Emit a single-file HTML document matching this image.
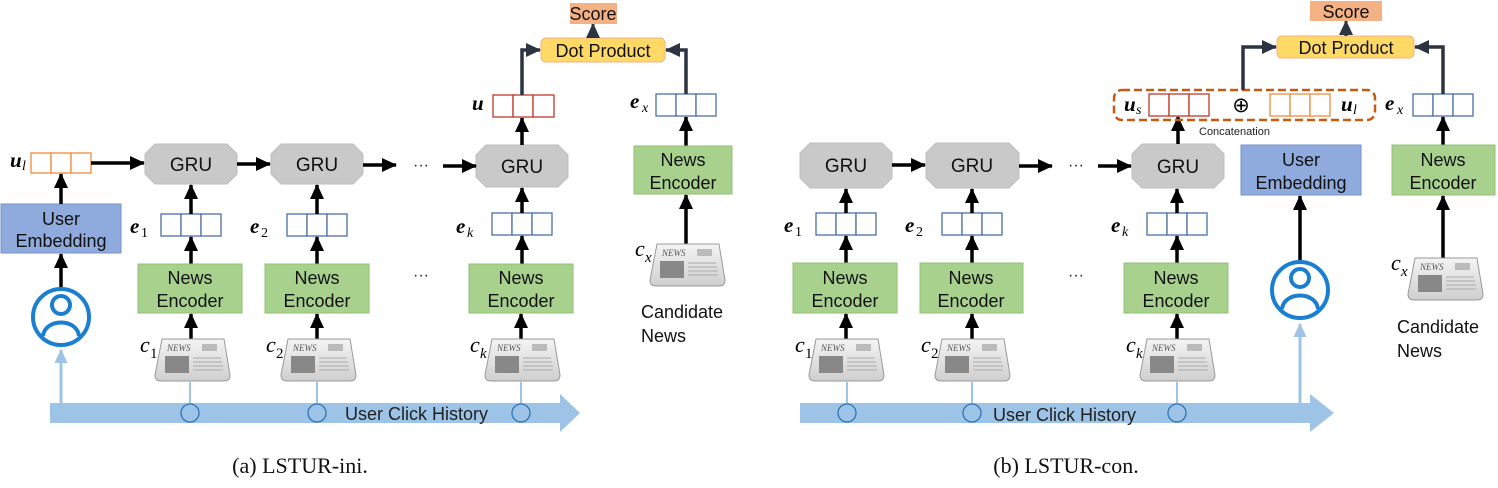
<!DOCTYPE html>
<html><head><meta charset="utf-8"><style>
body{margin:0;background:#fff}
svg{display:block}
.m{font-family:"Liberation Serif",serif;font-style:italic}
.b{font-family:"Liberation Serif",serif;font-style:italic;font-weight:bold}
.n{font-style:normal}
</style></head><body>
<svg width="1498" height="488" viewBox="0 0 1498 488" xmlns="http://www.w3.org/2000/svg" font-family="Liberation Sans, sans-serif">
<defs>
<marker id="ah" markerWidth="15" markerHeight="14" refX="14" refY="7" orient="auto" markerUnits="userSpaceOnUse"><path d="M0,0 L15,7 L0,14 z" fill="#000"/></marker>
<marker id="ad" markerWidth="15" markerHeight="14" refX="14" refY="7" orient="auto" markerUnits="userSpaceOnUse"><path d="M0,0 L15,7 L0,14 z" fill="#2b3440"/></marker>
<marker id="al" markerWidth="14" markerHeight="13" refX="13" refY="6.5" orient="auto" markerUnits="userSpaceOnUse"><path d="M0,0 L14,6.5 L0,13 z" fill="#9dc3e6"/></marker>
<linearGradient id="ng" x1="0" y1="0" x2="0" y2="1"><stop offset="0" stop-color="#f4f4f4"/><stop offset="1" stop-color="#cfcfcf"/></linearGradient>
</defs>

<!-- ===== LEFT PANEL ===== -->
<path d="M50,403 H560 V394 L580,413 L560,432 V423 H50 Z" fill="#9dc3e6"/>
<text x="345" y="420" font-size="18" fill="#222">User Click History</text>
<line x1="61" y1="403" x2="61" y2="350" stroke="#9dc3e6" stroke-width="3" marker-end="url(#al)"/>
<g stroke="#9dc3e6" stroke-width="2"><line x1="190" y1="382" x2="190" y2="403"/><line x1="317" y1="382" x2="317" y2="403"/><line x1="521" y1="382" x2="521" y2="403"/></g>
<g fill="#9dc3e6" stroke="#2e75b6" stroke-width="1.3"><circle cx="190" cy="413" r="9"/><circle cx="317" cy="413" r="9"/><circle cx="521" cy="413" r="9"/></g>

<g stroke="#1a7fd0" stroke-width="4" fill="none"><circle cx="61" cy="317" r="28"/><circle cx="61" cy="305" r="9"/><path d="M43,336 C45,318 77,318 79,336"/></g>
<line x1="61" y1="287" x2="61" y2="254" stroke="#000" stroke-width="3.5" marker-end="url(#ah)"/>
<rect x="1" y="204" width="120" height="49" fill="#8faadc" stroke="#7491c9"/>
<text x="61" y="225" font-size="18" text-anchor="middle" fill="#111">User</text>
<text x="61" y="247" font-size="18" text-anchor="middle" fill="#111">Embedding</text>
<line x1="61" y1="204" x2="61" y2="174" stroke="#000" stroke-width="3.5" marker-end="url(#ah)"/>
<text x="10" y="167" class="b" font-size="21">u</text><text x="22" y="170" class="m" font-size="14">l</text>
<g fill="#fff" stroke="#f08a3c" stroke-width="1.3"><rect x="31" y="153" width="20" height="20"/><rect x="51" y="153" width="20" height="20"/><rect x="71" y="153" width="20" height="20"/></g>
<line x1="91" y1="163" x2="144" y2="163" stroke="#000" stroke-width="3.5" marker-end="url(#ah)"/>

<g fill="#c9c9c9" stroke="#bdbdbd">
<path d="M155,144 H227 L237,154 V174 L227,184 H155 L145,174 V154 Z"/>
<path d="M281,144 H353 L363,154 V174 L353,184 H281 L271,174 V154 Z"/>
<path d="M486,145 H558 L568,155 V177 L558,187 H486 L476,177 V155 Z"/>
</g>
<g font-size="19" text-anchor="middle" fill="#111"><text x="191" y="171">GRU</text><text x="317" y="171">GRU</text><text x="522" y="173">GRU</text></g>
<line x1="237" y1="164" x2="270" y2="164" stroke="#000" stroke-width="3.5" marker-end="url(#ah)"/>
<line x1="363" y1="165" x2="396" y2="165" stroke="#000" stroke-width="3.5" marker-end="url(#ah)"/>
<text x="413" y="170" font-size="16" fill="#222">···</text>
<line x1="443" y1="166" x2="476" y2="166" stroke="#000" stroke-width="3.5" marker-end="url(#ah)"/>
<text x="413" y="280" font-size="16" fill="#222">···</text>

<g fill="#fff" stroke="#4a6fa5" stroke-width="1.3">
<rect x="161" y="214" width="20" height="22"/><rect x="181" y="214" width="20" height="22"/><rect x="201" y="214" width="20" height="22"/>
<rect x="287" y="214" width="20" height="22"/><rect x="307" y="214" width="20" height="22"/><rect x="327" y="214" width="20" height="22"/>
<rect x="492" y="213" width="20" height="22"/><rect x="512" y="213" width="20" height="22"/><rect x="532" y="213" width="20" height="22"/>
</g>
<text x="130" y="233" class="b" font-size="21">e</text><text x="141" y="237" font-size="14" class="m n">1</text>
<text x="250" y="233" class="b" font-size="21">e</text><text x="261" y="237" font-size="14" class="m n">2</text>
<text x="456" y="233" class="b" font-size="21">e</text><text x="467" y="237" font-size="14" class="m">k</text>
<g stroke="#000" stroke-width="3.5">
<line x1="191" y1="214" x2="191" y2="185" marker-end="url(#ah)"/><line x1="317" y1="214" x2="317" y2="185" marker-end="url(#ah)"/><line x1="522" y1="213" x2="522" y2="188" marker-end="url(#ah)"/>
<line x1="191" y1="264" x2="191" y2="237" marker-end="url(#ah)"/><line x1="317" y1="264" x2="317" y2="237" marker-end="url(#ah)"/><line x1="522" y1="264" x2="522" y2="236" marker-end="url(#ah)"/>
<line x1="191" y1="340" x2="191" y2="314" marker-end="url(#ah)"/><line x1="317" y1="340" x2="317" y2="314" marker-end="url(#ah)"/><line x1="521" y1="340" x2="521" y2="314" marker-end="url(#ah)"/>
<line x1="522" y1="145" x2="522" y2="118" marker-end="url(#ah)"/>
<line x1="686" y1="244" x2="686" y2="195" marker-end="url(#ah)"/>
<line x1="686" y1="146" x2="686" y2="117" marker-end="url(#ah)"/>
</g>

<g fill="#a9d18e" stroke="#8fbf74">
<rect x="138" y="264" width="104" height="49"/><rect x="265" y="264" width="104" height="49"/><rect x="469" y="264" width="104" height="49"/><rect x="634" y="146" width="98" height="48"/>
</g>
<g font-size="18" text-anchor="middle" fill="#111">
<text x="190" y="284">News</text><text x="190" y="307">Encoder</text>
<text x="317" y="284">News</text><text x="317" y="307">Encoder</text>
<text x="521" y="284">News</text><text x="521" y="307">Encoder</text>
<text x="683" y="166">News</text><text x="683" y="189">Encoder</text>
</g>

<g transform="translate(155,339)">
<path d="M7,0 H69 L75,36 Q75,42 69,42 H6 Q0,42 0,36 Z" fill="url(#ng)" stroke="#999"/>
<text x="12" y="12" font-size="9" font-family="Liberation Serif, serif" font-style="italic" fill="#555">NEWS</text>
<rect x="47" y="5" width="15" height="7" fill="#bbb"/><rect x="10" y="17" width="24" height="17" fill="#888"/>
<g stroke="#aaa"><line x1="38" y1="19" x2="66" y2="19"/><line x1="38" y1="23" x2="67" y2="23"/><line x1="38" y1="27" x2="68" y2="27"/><line x1="38" y1="31" x2="68" y2="31"/></g>
</g>
<g transform="translate(281,339)">
<path d="M7,0 H69 L75,36 Q75,42 69,42 H6 Q0,42 0,36 Z" fill="url(#ng)" stroke="#999"/>
<text x="12" y="12" font-size="9" font-family="Liberation Serif, serif" font-style="italic" fill="#555">NEWS</text>
<rect x="47" y="5" width="15" height="7" fill="#bbb"/><rect x="10" y="17" width="24" height="17" fill="#888"/>
<g stroke="#aaa"><line x1="38" y1="19" x2="66" y2="19"/><line x1="38" y1="23" x2="67" y2="23"/><line x1="38" y1="27" x2="68" y2="27"/><line x1="38" y1="31" x2="68" y2="31"/></g>
</g>
<g transform="translate(485,339)">
<path d="M7,0 H69 L75,36 Q75,42 69,42 H6 Q0,42 0,36 Z" fill="url(#ng)" stroke="#999"/>
<text x="12" y="12" font-size="9" font-family="Liberation Serif, serif" font-style="italic" fill="#555">NEWS</text>
<rect x="47" y="5" width="15" height="7" fill="#bbb"/><rect x="10" y="17" width="24" height="17" fill="#888"/>
<g stroke="#aaa"><line x1="38" y1="19" x2="66" y2="19"/><line x1="38" y1="23" x2="67" y2="23"/><line x1="38" y1="27" x2="68" y2="27"/><line x1="38" y1="31" x2="68" y2="31"/></g>
</g>
<g transform="translate(650,244)">
<path d="M7,0 H69 L75,36 Q75,42 69,42 H6 Q0,42 0,36 Z" fill="url(#ng)" stroke="#999"/>
<text x="12" y="12" font-size="9" font-family="Liberation Serif, serif" font-style="italic" fill="#555">NEWS</text>
<rect x="47" y="5" width="15" height="7" fill="#bbb"/><rect x="10" y="17" width="24" height="17" fill="#888"/>
<g stroke="#aaa"><line x1="38" y1="19" x2="66" y2="19"/><line x1="38" y1="23" x2="67" y2="23"/><line x1="38" y1="27" x2="68" y2="27"/><line x1="38" y1="31" x2="68" y2="31"/></g>
</g>
<text x="140" y="352" class="m" font-size="22">c</text><text x="150" y="358" font-size="15" class="m n">1</text>
<text x="266" y="352" class="m" font-size="22">c</text><text x="276" y="358" font-size="15" class="m n">2</text>
<text x="470" y="352" class="m" font-size="22">c</text><text x="480" y="358" font-size="15" class="m">k</text>
<text x="635" y="256" class="m" font-size="22">c</text><text x="645" y="262" font-size="15" class="m">x</text>
<text x="641" y="318" font-size="18" fill="#111">Candidate</text>
<text x="641" y="342" font-size="18" fill="#111">News</text>

<text x="472" y="110" class="b" font-size="21">u</text>
<g fill="#fff" stroke="#c0392b" stroke-width="1.3"><rect x="493" y="95" width="20" height="22"/><rect x="513" y="95" width="20" height="22"/><rect x="533" y="95" width="21" height="22"/></g>
<text x="630" y="108" class="b" font-size="21">e</text><text x="642" y="112" class="m" font-size="14">x</text>
<g fill="#fff" stroke="#4a6fa5" stroke-width="1.3"><rect x="656" y="94" width="20" height="22"/><rect x="676" y="94" width="20" height="22"/><rect x="696" y="94" width="20" height="22"/></g>
<path d="M522,95 V50 H540" fill="none" stroke="#2b3440" stroke-width="3.5" marker-end="url(#ad)"/>
<path d="M686,94 V50 H666" fill="none" stroke="#2b3440" stroke-width="3.5" marker-end="url(#ad)"/>
<rect x="541" y="38" width="124" height="24" rx="5" fill="#ffd966" stroke="#f4b183"/>
<text x="603" y="57" font-size="18" text-anchor="middle" fill="#111">Dot Product</text>
<line x1="593" y1="38" x2="593" y2="24" stroke="#2b3440" stroke-width="3" marker-end="url(#ad)"/>
<rect x="570" y="3" width="47" height="21" fill="#f4b183"/>
<text x="593" y="20" font-size="18" text-anchor="middle" fill="#111">Score</text>

<!-- ===== RIGHT PANEL ===== -->
<path d="M800,403 H1310 V394 L1334,413 L1310,432 V423 H800 Z" fill="#9dc3e6"/>
<text x="993" y="421" font-size="18" fill="#222">User Click History</text>
<line x1="1300" y1="403" x2="1300" y2="324" stroke="#9dc3e6" stroke-width="3" marker-end="url(#al)"/>
<g stroke="#9dc3e6" stroke-width="2"><line x1="847" y1="382" x2="847" y2="403"/><line x1="972" y1="382" x2="972" y2="403"/><line x1="1177" y1="382" x2="1177" y2="403"/></g>
<g fill="#9dc3e6" stroke="#2e75b6" stroke-width="1.3"><circle cx="847" cy="413" r="9"/><circle cx="972" cy="413" r="9"/><circle cx="1177" cy="413" r="9"/></g>

<g stroke="#1a7fd0" stroke-width="4" fill="none"><circle cx="1300" cy="290" r="28"/><circle cx="1300" cy="278" r="9"/><path d="M1282,309 C1284,291 1316,291 1318,309"/></g>
<line x1="1300" y1="260" x2="1300" y2="196" stroke="#000" stroke-width="3.5" marker-end="url(#ah)"/>
<rect x="1241" y="145" width="120" height="50" fill="#8faadc" stroke="#7491c9"/>
<text x="1301" y="166" font-size="18" text-anchor="middle" fill="#111">User</text>
<text x="1301" y="189" font-size="18" text-anchor="middle" fill="#111">Embedding</text>

<g fill="#c9c9c9" stroke="#bdbdbd">
<path d="M810,143 H882 L892,153 V178 L882,188 H810 L800,178 V153 Z"/>
<path d="M936,143 H1009 L1019,153 V178 L1009,188 H936 L926,178 V153 Z"/>
<path d="M1142,144 H1214 L1224,154 V178 L1214,188 H1142 L1132,178 V154 Z"/>
</g>
<g font-size="19" text-anchor="middle" fill="#111"><text x="846" y="172">GRU</text><text x="972" y="172">GRU</text><text x="1178" y="173">GRU</text></g>
<line x1="892" y1="165" x2="925" y2="165" stroke="#000" stroke-width="3.5" marker-end="url(#ah)"/>
<line x1="1019" y1="166" x2="1052" y2="166" stroke="#000" stroke-width="3.5" marker-end="url(#ah)"/>
<text x="1068" y="170" font-size="16" fill="#222">···</text>
<line x1="1098" y1="166" x2="1131" y2="166" stroke="#000" stroke-width="3.5" marker-end="url(#ah)"/>
<text x="1068" y="280" font-size="16" fill="#222">···</text>

<g fill="#fff" stroke="#4a6fa5" stroke-width="1.3">
<rect x="816" y="213" width="20" height="22"/><rect x="836" y="213" width="20" height="22"/><rect x="856" y="213" width="20" height="22"/>
<rect x="942" y="213" width="20" height="22"/><rect x="962" y="213" width="20" height="22"/><rect x="982" y="213" width="20" height="22"/>
<rect x="1147" y="213" width="20" height="22"/><rect x="1167" y="213" width="20" height="22"/><rect x="1187" y="213" width="20" height="22"/>
</g>
<text x="784" y="232" class="b" font-size="21">e</text><text x="795" y="236" font-size="14" class="m n">1</text>
<text x="905" y="232" class="b" font-size="21">e</text><text x="916" y="236" font-size="14" class="m n">2</text>
<text x="1111" y="232" class="b" font-size="21">e</text><text x="1122" y="236" font-size="14" class="m">k</text>
<g stroke="#000" stroke-width="3.5">
<line x1="846" y1="213" x2="846" y2="189" marker-end="url(#ah)"/><line x1="972" y1="213" x2="972" y2="189" marker-end="url(#ah)"/><line x1="1177" y1="213" x2="1177" y2="189" marker-end="url(#ah)"/>
<line x1="846" y1="263" x2="846" y2="236" marker-end="url(#ah)"/><line x1="972" y1="263" x2="972" y2="236" marker-end="url(#ah)"/><line x1="1177" y1="263" x2="1177" y2="236" marker-end="url(#ah)"/>
<line x1="846" y1="340" x2="846" y2="314" marker-end="url(#ah)"/><line x1="972" y1="340" x2="972" y2="314" marker-end="url(#ah)"/><line x1="1177" y1="340" x2="1177" y2="314" marker-end="url(#ah)"/>
<line x1="1178" y1="144" x2="1178" y2="117" marker-end="url(#ah)"/>
<line x1="1443" y1="258" x2="1443" y2="196" marker-end="url(#ah)"/>
<line x1="1443" y1="145" x2="1443" y2="117" marker-end="url(#ah)"/>
</g>

<g fill="#a9d18e" stroke="#8fbf74">
<rect x="793" y="263" width="104" height="50"/><rect x="920" y="263" width="103" height="50"/><rect x="1124" y="263" width="104" height="50"/><rect x="1392" y="145" width="103" height="50"/>
</g>
<g font-size="18" text-anchor="middle" fill="#111">
<text x="845" y="284">News</text><text x="845" y="307">Encoder</text>
<text x="971" y="284">News</text><text x="971" y="307">Encoder</text>
<text x="1176" y="284">News</text><text x="1176" y="307">Encoder</text>
<text x="1443" y="166">News</text><text x="1443" y="189">Encoder</text>
</g>

<g transform="translate(809,339)">
<path d="M7,0 H69 L75,36 Q75,42 69,42 H6 Q0,42 0,36 Z" fill="url(#ng)" stroke="#999"/>
<text x="12" y="12" font-size="9" font-family="Liberation Serif, serif" font-style="italic" fill="#555">NEWS</text>
<rect x="47" y="5" width="15" height="7" fill="#bbb"/><rect x="10" y="17" width="24" height="17" fill="#888"/>
<g stroke="#aaa"><line x1="38" y1="19" x2="66" y2="19"/><line x1="38" y1="23" x2="67" y2="23"/><line x1="38" y1="27" x2="68" y2="27"/><line x1="38" y1="31" x2="68" y2="31"/></g>
</g>
<g transform="translate(935,339)">
<path d="M7,0 H69 L75,36 Q75,42 69,42 H6 Q0,42 0,36 Z" fill="url(#ng)" stroke="#999"/>
<text x="12" y="12" font-size="9" font-family="Liberation Serif, serif" font-style="italic" fill="#555">NEWS</text>
<rect x="47" y="5" width="15" height="7" fill="#bbb"/><rect x="10" y="17" width="24" height="17" fill="#888"/>
<g stroke="#aaa"><line x1="38" y1="19" x2="66" y2="19"/><line x1="38" y1="23" x2="67" y2="23"/><line x1="38" y1="27" x2="68" y2="27"/><line x1="38" y1="31" x2="68" y2="31"/></g>
</g>
<g transform="translate(1140,339)">
<path d="M7,0 H69 L75,36 Q75,42 69,42 H6 Q0,42 0,36 Z" fill="url(#ng)" stroke="#999"/>
<text x="12" y="12" font-size="9" font-family="Liberation Serif, serif" font-style="italic" fill="#555">NEWS</text>
<rect x="47" y="5" width="15" height="7" fill="#bbb"/><rect x="10" y="17" width="24" height="17" fill="#888"/>
<g stroke="#aaa"><line x1="38" y1="19" x2="66" y2="19"/><line x1="38" y1="23" x2="67" y2="23"/><line x1="38" y1="27" x2="68" y2="27"/><line x1="38" y1="31" x2="68" y2="31"/></g>
</g>
<g transform="translate(1408,258)">
<path d="M7,0 H69 L75,36 Q75,42 69,42 H6 Q0,42 0,36 Z" fill="url(#ng)" stroke="#999"/>
<text x="12" y="12" font-size="9" font-family="Liberation Serif, serif" font-style="italic" fill="#555">NEWS</text>
<rect x="47" y="5" width="15" height="7" fill="#bbb"/><rect x="10" y="17" width="24" height="17" fill="#888"/>
<g stroke="#aaa"><line x1="38" y1="19" x2="66" y2="19"/><line x1="38" y1="23" x2="67" y2="23"/><line x1="38" y1="27" x2="68" y2="27"/><line x1="38" y1="31" x2="68" y2="31"/></g>
</g>
<text x="795" y="352" class="m" font-size="22">c</text><text x="805" y="358" font-size="15" class="m n">1</text>
<text x="921" y="352" class="m" font-size="22">c</text><text x="931" y="358" font-size="15" class="m n">2</text>
<text x="1126" y="352" class="m" font-size="22">c</text><text x="1136" y="358" font-size="15" class="m">k</text>
<text x="1391" y="270" class="m" font-size="22">c</text><text x="1401" y="276" font-size="15" class="m">x</text>
<text x="1397" y="333" font-size="18" fill="#111">Candidate</text>
<text x="1397" y="357" font-size="18" fill="#111">News</text>

<rect x="1114" y="90" width="261" height="30" rx="8" fill="none" stroke="#c55a11" stroke-width="2.5" stroke-dasharray="8,4"/>
<text x="1124" y="111" class="b" font-size="21">u</text><text x="1136" y="114" class="m" font-size="14">s</text>
<g fill="#fff" stroke="#c0392b" stroke-width="1.3"><rect x="1149" y="94" width="20" height="22"/><rect x="1169" y="94" width="20" height="22"/><rect x="1189" y="94" width="20" height="22"/></g>
<text x="1241" y="112" font-size="21" text-anchor="middle" font-family="DejaVu Sans, sans-serif">⊕</text>
<g fill="#fff" stroke="#f08a3c" stroke-width="1.3"><rect x="1270" y="94" width="20" height="22"/><rect x="1290" y="94" width="20" height="22"/><rect x="1310" y="94" width="20" height="22"/></g>
<text x="1341" y="111" class="b" font-size="21">u</text><text x="1353" y="114" class="m" font-size="14">l</text>
<text x="1199" y="135" font-size="11" fill="#222">Concatenation</text>
<text x="1385" y="110" class="b" font-size="21">e</text><text x="1397" y="114" class="m" font-size="14">x</text>
<g fill="#fff" stroke="#4a6fa5" stroke-width="1.3"><rect x="1413" y="94" width="20" height="22"/><rect x="1433" y="94" width="20" height="22"/><rect x="1453" y="94" width="20" height="22"/></g>
<path d="M1243,90 V47 H1276" fill="none" stroke="#2b3440" stroke-width="3.5" marker-end="url(#ad)"/>
<path d="M1443,94 V47 H1415" fill="none" stroke="#2b3440" stroke-width="3.5" marker-end="url(#ad)"/>
<rect x="1277" y="36" width="137" height="22" rx="5" fill="#ffd966" stroke="#f4b183"/>
<text x="1346" y="54" font-size="18" text-anchor="middle" fill="#111">Dot Product</text>
<line x1="1346" y1="36" x2="1346" y2="21" stroke="#2b3440" stroke-width="3" marker-end="url(#ad)"/>
<rect x="1310" y="1" width="72" height="20" fill="#f4b183"/>
<text x="1346" y="18" font-size="18" text-anchor="middle" fill="#111">Score</text>

<text x="300" y="473" font-size="22" text-anchor="middle" font-family="Liberation Serif, serif" fill="#111">(a) LSTUR-ini.</text>
<text x="1066" y="473" font-size="22" text-anchor="middle" font-family="Liberation Serif, serif" fill="#111">(b) LSTUR-con.</text>
</svg>
</body></html>
